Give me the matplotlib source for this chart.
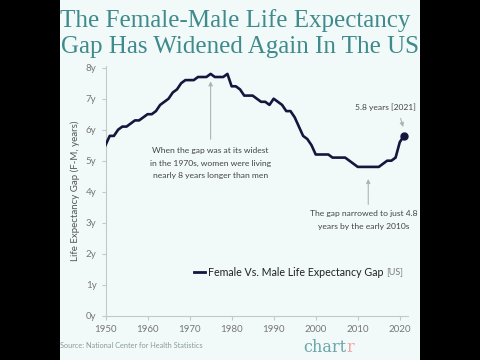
import matplotlib.pyplot as plt
from matplotlib.patches import Rectangle
from matplotlib.lines import Line2D

# ---- data (F-M life expectancy gap, years) ----
years = list(range(1950, 2022))
gap = [5.5, 5.8, 5.8, 6.0, 6.1, 6.1, 6.2, 6.3, 6.3, 6.4,
       6.5, 6.5, 6.6, 6.8, 6.9, 7.0, 7.2, 7.3, 7.5, 7.6,
       7.6, 7.6, 7.7, 7.7, 7.7, 7.8, 7.7, 7.7, 7.7, 7.8,
       7.4, 7.4, 7.3, 7.1, 7.1, 7.1, 7.0, 6.9, 6.9, 6.8,
       7.0, 6.9, 6.8, 6.6, 6.6, 6.4, 6.1, 5.8, 5.7, 5.5,
       5.2, 5.2, 5.2, 5.2, 5.1, 5.1, 5.1, 5.1, 5.0, 4.9,
       4.8, 4.8, 4.8, 4.8, 4.8, 4.8, 4.9, 5.0, 5.0, 5.1,
       5.6, 5.8]
x_ticks = [1950, 1960, 1970, 1980, 1990, 2000, 2010, 2020]
y_ticks = [0, 1, 2, 3, 4, 5, 6, 7, 8]
y_tick_labels = [f'{v}y' for v in y_ticks]

BG = '#f2f9f9'
TEAL = '#3f8a8c'
NAVY = '#15163d'
GREY = '#777777'
SANS = ['Lato', 'DejaVu Sans']
SERIF = ['Liberation Serif', 'DejaVu Serif']

fig = plt.figure(figsize=(4.8, 3.6), dpi=100, facecolor='black')
fig.add_artist(Rectangle((0.125, 0), 0.75, 1, transform=fig.transFigure,
                         facecolor=BG, edgecolor='none', zorder=-10))

# title
fig.text(0.49, 1 - 27 / 360, 'The Female-Male Life Expectancy', ha='center', va='baseline',
         fontsize=18, color=TEAL, family=SERIF)
fig.text(0.5, 1 - 53 / 360, 'Gap Has Widened Again In The US', ha='center', va='baseline',
         fontsize=18, color=TEAL, family=SERIF)

ax = fig.add_axes([105.5 / 480, 1 - 315.7 / 360, 302.7 / 480, 0.6932])
ax.set_facecolor(BG)
ax.plot(years, gap, color=NAVY, lw=1.9, solid_joinstyle='round', zorder=3)
ax.plot(years[-1], gap[-1], 'o', color=NAVY, ms=5, zorder=4)

ax.set_xlim(1950, 2022)
ax.set_ylim(0, 8.05)
ax.set_xticks(x_ticks)
ax.set_yticks(y_ticks)
ax.set_yticklabels(y_tick_labels)
for s in ['top', 'right']:
    ax.spines[s].set_visible(False)
for s in ['left', 'bottom']:
    ax.spines[s].set_color('#c4c8c8')
    ax.spines[s].set_linewidth(0.8)
ax.tick_params(colors='#c4c8c8', labelcolor=GREY, labelsize=7, length=3, width=0.8)
for lab in ax.get_xticklabels() + ax.get_yticklabels():
    lab.set_family(SANS)
ax.set_ylabel('Life Expectancy Gap (F-M, years)', fontsize=7, color='#555555',
              family=SANS, labelpad=4)

# annotations
arrow = dict(arrowstyle='-|>', color='#b0b4b4', lw=0.8, mutation_scale=6)
ax.annotate('', xy=(1975, 7.65), xytext=(1975, 5.6), arrowprops=arrow)
ax.text(1975, 5.45, 'When the gap was at its widest\nin the 1970s, women were living\nnearly 8 years longer than men',
        ha='center', va='top', fontsize=6.1, color='#444444', family=SANS, linespacing=1.95)
ax.annotate('', xy=(2012.5, 4.5), xytext=(2012.5, 3.5), arrowprops=arrow)
ax.text(2011.5, 3.4, 'The gap narrowed to just 4.8\nyears by the early 2010s',
        ha='center', va='top', fontsize=6.1, color='#444444', family=SANS, linespacing=1.95)
ax.annotate('', xy=(2021.0, 6.0), xytext=(2020.0, 6.45), arrowprops=arrow)
ax.text(2016.6, 6.6, '5.8 years [2021]', ha='center', va='bottom', fontsize=6.1,
        color='#444444', family=SANS)

# legend
LY = 0.175
ax.add_line(Line2D([0.292, 0.33], [LY, LY], transform=ax.transAxes,
                   color=NAVY, lw=2.0))
t1 = ax.text(0.338, LY, 'Female Vs. Male Life Expectancy Gap', transform=ax.transAxes,
             ha='left', va='center', fontsize=7.7, color='#222222', family=SANS)
fig.canvas.draw()
bb = t1.get_window_extent().transformed(ax.transAxes.inverted())
ax.text(bb.x1 + 0.01, LY, '[US]', transform=ax.transAxes, ha='left', va='center',
        fontsize=6.5, color=GREY, family=SANS)

# footer
fig.text(60 / 480, 1 - 345 / 360, 'Source: National Center for Health Statistics',
         ha='left', va='center', fontsize=5.3, color='#8a9a9a', family=SANS)
c = fig.text(303 / 480, 1 - 348 / 360, 'chart', ha='left', va='center',
             fontsize=11.5, color='#6aa6aa', family='DejaVu Serif')
fig.canvas.draw()
cb = c.get_window_extent().transformed(fig.transFigure.inverted())
fig.text(cb.x1, 1 - 348 / 360, 'r', ha='left', va='center', fontsize=11.5,
         color='#f2a7a4', family='DejaVu Serif')

fig.savefig('out.png', dpi=100, facecolor=fig.get_facecolor())
